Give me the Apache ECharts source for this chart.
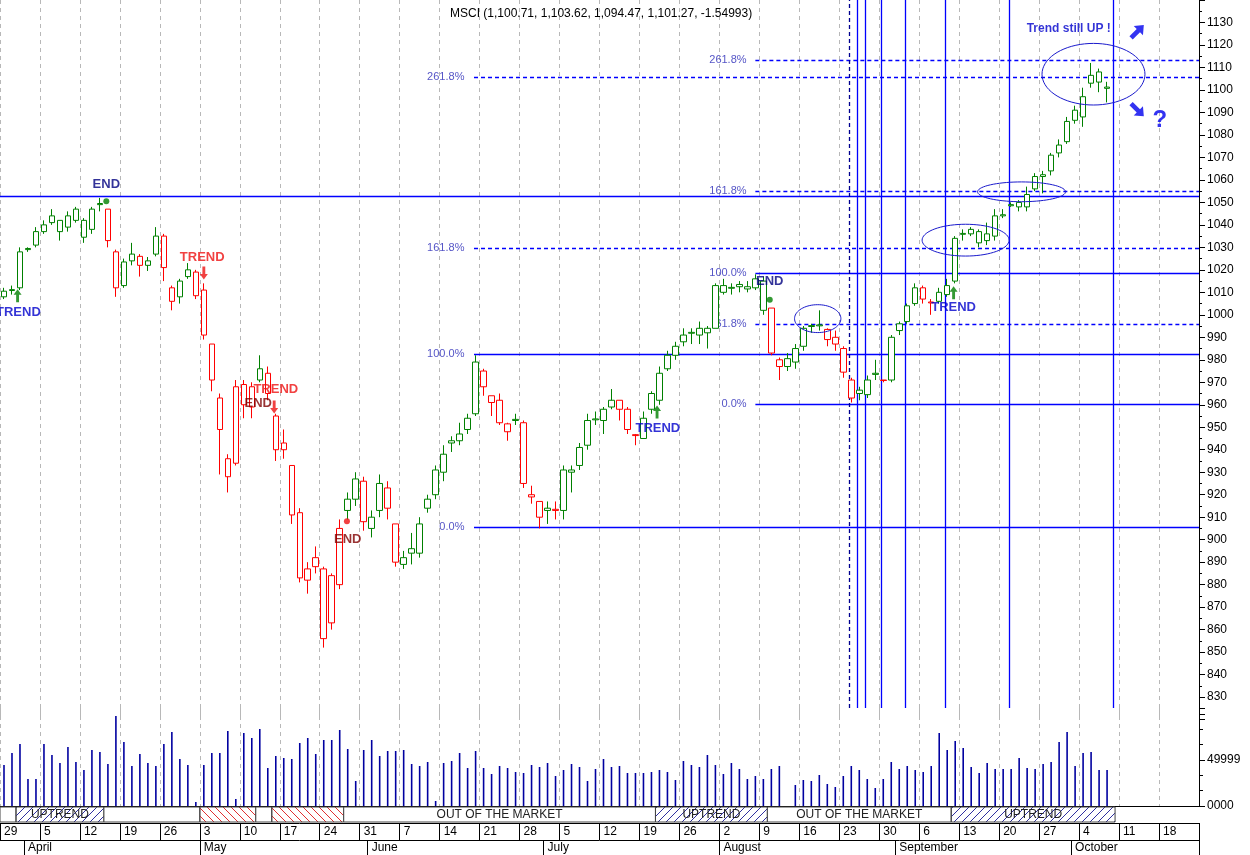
<!DOCTYPE html>
<html><head><meta charset="utf-8">
<script src="https://cdn.jsdelivr.net/npm/echarts@6/dist/echarts.min.js"></script>
<style>html,body{margin:0;padding:0;background:#fff}#c{width:1250px;height:855px}</style>
</head><body><div id="c"></div>
<script>
// ---- data ----
const opens  = [1008,1010.8,1012,1029,1031,1037,1041,1042,1039,1047,1042,1038,1049,1047,1028,1013,1024,1026,1022,1027,1035,1012,1008,1017,1019,1011,987,963,936,934,969,959,971,974,955,943,933,912,882,888,887,863,880,913,918,926,905,913,923,907,889,894,894,914,920,930,943,944,949,956,975,964,962,951.5,953,952,920,917,913,913.5,913,930,933,942,953.3,953,959,962,958,946.7,945,958,962,976,982,988,991.8,991,994,994,1013,1011.8,1013.5,1012.5,1012,1015,1003,980,977,979,986,994.8,995.1,993.5,990,985,971,965,964.5,973.5,971,971,993,997,1005,1012,1005.7,1006,1009,1015,1035.8,1036,1037,1033,1035,1044,1048.5,1050,1048,1056,1061.5,1064,1072,1077,1086.5,1088,1103,1108,1100.71];
const closes = [1010.5,1011.2,1028,1029.5,1037,1040,1044,1037,1044,1042,1034.5,1047,1049.5,1033,1012,1023.5,1027,1022,1024,1035,1021,1006,1015,1020,1008.5,991,971,949,928,968,960,968,976,965,940,940,911,883,887,892,856,884,905,918,927,908,910,925,914,890,892,896,907,918,931,938,944,947,954,979,968,961,952,948,953.5,925,919,910,914,913,931,931,941,953,953.7,958,962,958,949,946.3,954,965,974,982,986,991,992.2,994,992,1013,1010,1012.2,1012.5,1011.5,1016,1002,983,977,980.5,985,994,995.2,995.5,989,987,974.5,963,966.5,971,974,970.8,990,996,1004,1012,1007,1005.3,1010,1013,1034,1036.2,1038,1032,1036,1044,1044.5,1049,1048,1053.5,1061.5,1062.3,1071,1075.5,1086,1091,1097,1106.5,1103.5,1101.27];
const lows   = [1007,1009,1011,1028,1030,1036,1040,1033,1037,1041,1032,1036,1046,1030,1008,1012,1022,1017,1019.5,1026,1015,1002,1005,1016,1007,989,966,929,921,933,954,954,970,962,935,936,907,881,876,885,852,860,878,909,915,904,901,910,909,888,887,889,892,912,918,926,939,942,947,955,964,955,951,944,951,923,916,905,907,909,909,921,931,940,951,947,958,953,947,942,945,956,960,975,980,986,987,987,985,994,1009,1009,1010,1010,1011,1000,982,971,975,976,984,992,993,986,984,972,961,962,963,971,970,970,991,996,1004,1005,1000,1005,1008,1014,1033,1035,1030,1031,1033,1043,1048,1046,1046,1055,1054,1062,1070,1076,1085,1083.6,1101,1099,1094.47];
const highs  = [1012,1013,1030,1030,1039,1042,1047,1042,1046,1048,1043,1048,1052,1047,1029,1025,1032,1027,1025.7,1039,1036,1013,1016,1023,1020,1014,987,965,938,971,971,970,982,977,956,949,933,914,890,897,888,885,909,921,930,928,913,929,926,907,895,903,910,920,933,942,946,952,956,982,976,964,965,952,956,953,924,917,917,917,933,933,943,956,957,959,967,962,959,947,957,966,977,984,988,994,994,997,995,1014,1016,1014,1015,1015,1018,1017,1003,981,983,987,995,996,1002,994,993,986,972,968,973,980,971,991,997,1005,1014,1013,1007,1012,1016,1035,1038,1039,1038,1041,1047,1047,1050,1051,1057,1063,1064,1072,1078,1088,1093,1101,1112,1109.5,1103.62];
const volumeA = [41,53,62,27,27,62,51,43,59,44,36,56,54,42,90,64,40,52,43,40,62,74,47,41,4,41,53,53,75,7,73,68,77,38,50,48,47,63,68,52,66,66,76,57,25,56,66,50,55,55,56,42,40,44,5,43,45,53,38,55,38,32,40,38,34,33,41,39,43,30,36,42,39,25,37,47,39,40];
const volumeB = [33,33,33,34,36,34,26,45,41,39,51,41,32,43,37,27,30,27,37,40,null,21,26,25,31,22,19,30,40,36,27,18,27,44,37,40,36,34,40,73,56,65,58,39,33,43,37,37,37,48,38,37,42,44,64,74,40,53,54,36,36];
const volumes = volumeA.concat(volumeB);
const monthNames = ['January','February','March','April','May','June','July','August','September','October','November','December'];
const startDate = [2004,2,29]; // Monday 29 March 2004
const slotCount = 150;
const priceTicks = {min:820,max:1140,step:10};
// bands: [startSlot, endSlot, kind]
const bands = [[0,2,'empty'],[2,13,'up'],[13,25,'empty'],[25,32,'down'],[32,34,'empty'],[34,43,'down'],[43,82,'out'],[82,96,'up'],[96,119,'out'],[119,139.5,'up']];
// fibonacci retracements
const fib1Start = 58.8, fib1Levels = [[905.5,'0.0%','solid'],[982.4,'100.0%','solid'],[1029.7,'161.8%','dashed'],[1105.7,'261.8%','dashed']];
const fib2Start = 94, fib2Levels = [[960.3,'0.0%','solid'],[996.1,'61.8%','dashed'],[1018.6,'100.0%','solid'],[1054.9,'161.8%','dashed'],[1113.2,'261.8%','dashed']];
const resistance = 1052.7;
const timeZones = [[105.7,'dashed'],[106.7,'solid'],[107.7,'solid'],[109.7,'solid'],[112.7,'solid'],[117.7,'solid'],[125.7,'solid'],[138.7,'solid']];
const ellipses = [[101.8,998.3,2.9,6.2],[120.3,1033.2,5.44,7.07],[127.3,1054.7,5.5,4.4],[136.3,1107,6.44,13.7]];
const texts = [[1.8,1001,'TREND','blue'],[12.8,1058,'END','navy'],[24.8,1025.3,'TREND','red'],[34,967,'TREND','red'],[31.8,960.8,'END','darkred'],[43,900.2,'END','darkred'],[81.8,949.3,'TREND','blue'],[95.8,1014.7,'END','navy'],[118.8,1003.2,'TREND','blue'],[133.2,1127.4,'Trend still UP !','bluesmall'],[144.6,1086.3,'?','big']];
const arrows = [[1.7,1008.5,'up','green'],[25,1018.6,'down','red'],[33.8,959,'down','red'],[81.7,956.8,'up','green'],[118.8,1009.8,'up','green'],[141.8,1126,'upright','bigblue'],[141.8,1091.1,'downright','bigblue']];
const dots = [[12.8,1050.5,'green'],[95.8,1006.7,'green'],[42.9,908.2,'red']];
const titleText = 'MSCI (1,100.71, 1,103.62, 1,094.47, 1,101.27, -1.54993)';

// ---- derived ----
const cats=[]; const dateOf=[];
{ let d=new Date(startDate[0],startDate[1],startDate[2]);
  while(cats.length<slotCount){ const w=d.getDay(); if(w>0&&w<6){cats.push(String(cats.length)); dateOf.push(new Date(d));} d.setDate(d.getDate()+1);} }
const isWeekStart = i => dateOf[i] && dateOf[i].getDay()===1;
const isMonthStart = i => i>0 && dateOf[i].getMonth()!==dateOf[i-1].getMonth();
const bandAt = i => { const b=bands.find(b=>i>=b[0]&&i<b[1]); return b?b[2]:'none'; };

const GREEN='#008000', RED='#ff0000', BLUE='#0000ff';
const candles = opens.map((o,i)=>{
  const st=bandAt(i);
  let c = closes[i]>=o ? GREEN : RED;
  if(st==='up') c=GREEN; else if(st==='down') c=RED;
  return {value:[o,closes[i],lows[i],highs[i]], itemStyle:{color:'#ffffff',color0:c,borderColor:c,borderColor0:c,borderWidth:1}};
});
function hatch(color,dir){ const c=document.createElement('canvas'); c.width=c.height=8; const g=c.getContext('2d'); g.strokeStyle=color; g.lineWidth=1; g.beginPath();
  if(dir>0){g.moveTo(0,8);g.lineTo(8,0);g.moveTo(-4,4);g.lineTo(4,-4);g.moveTo(4,12);g.lineTo(12,4);}
  else {g.moveTo(0,0);g.lineTo(8,8);g.moveTo(-4,4);g.lineTo(4,12);g.moveTo(4,-4);g.lineTo(12,4);}
  g.stroke(); return c; }
const upPat = hatch('#3030a0',1), dnPat = hatch('#e03030',-1);

// line segments: [x1,y1,x2,y2,styleIndex]  0=solid blue, 1=dashed blue, 2=dashed navy
const segs=[];
fib1Levels.forEach(l=>segs.push([fib1Start,l[0],149.5,l[0],l[2]==='solid'?0:1]));
fib2Levels.forEach(l=>segs.push([fib2Start,l[0],149.5,l[0],l[2]==='solid'?0:1]));
segs.push([-0.5,resistance,149.5,resistance,0]);
timeZones.forEach(t=>segs.push([t[0],825.1,t[0],1140,t[1]==='solid'?0:2]));
const segStyles=[{stroke:BLUE,lineDash:null},{stroke:BLUE,lineDash:[4,3]},{stroke:'#000090',lineDash:[4,3]}];
const snap=v=>Math.round(v)+0.5;

const fibLabels=[];
fib1Levels.forEach(l=>fibLabels.push({value:[fib1Start-1.2,l[0]],label:{formatter:l[1]}}));
fib2Levels.forEach(l=>fibLabels.push({value:[fib2Start-1.1,l[0]],label:{formatter:l[1]}}));

const textStyles={blue:{color:'#0000cc',fontSize:13,fontWeight:'bold'},navy:{color:'#000080',fontSize:13,fontWeight:'bold'},red:{color:'#ee1111',fontSize:13,fontWeight:'bold'},darkred:{color:'#800000',fontSize:13,fontWeight:'bold'},bluesmall:{color:'#0000cc',fontSize:12,fontWeight:'bold'},big:{color:'#0000ee',fontSize:24,fontWeight:'bold'}};
const textItems = texts.map(t=>({value:[t[0],t[1]],label:Object.assign({show:true,position:'inside',formatter:t[2],fontFamily:'Liberation Sans'},textStyles[t[3]])}));
const arrowPath='path://M5,0 L10,6 L6.8,6 L6.8,14 L3.2,14 L3.2,6 L0,6 Z';
const rot={up:0,down:180,upright:-45,downright:-135};
const arrowItems = arrows.map(a=>({value:[a[0],a[1]],symbol:arrowPath,symbolRotate:rot[a[2]],symbolSize:a[3]==='bigblue'?[13,18]:[8,13],itemStyle:{color:a[3]==='green'?'#008000':a[3]==='red'?'#ee1111':'#0000ee'}}));
const dotItems = dots.map(d=>({value:[d[0],d[1]],itemStyle:{color:d[2]==='green'?'#008000':'#ee1111'}}));

const FONT='Liberation Sans';
const chart=echarts.init(document.getElementById('c'),null,{renderer:'canvas'});
chart.setOption({
  animation:false,
  backgroundColor:'#ffffff',
  textStyle:{fontFamily:FONT},
  title:{text:titleText,left:445,top:3,textStyle:{fontSize:12,fontWeight:'normal',color:'#000',fontFamily:FONT}},
  grid:[
    {left:0,width:1199,top:-4.63,height:724.2},
    {left:0,width:1199,top:708,height:98},
    {left:0,width:1199,top:806,height:17}
  ],
  xAxis:[
    {type:'category',gridIndex:0,data:cats,boundaryGap:true,axisLine:{show:false},axisTick:{show:false},axisLabel:{show:false},
     splitLine:{show:true,interval:(i)=>isWeekStart(i),lineStyle:{type:[4,4],color:'#b8b8b8'}}},
    {type:'value',gridIndex:0,min:-0.5,max:149.5,show:false},
    {type:'category',gridIndex:1,data:cats,position:'top',boundaryGap:true,axisLine:{show:true,lineStyle:{color:'#000',width:1}},axisTick:{show:false},axisLabel:{show:false},
     splitLine:{show:true,interval:(i)=>isWeekStart(i),lineStyle:{type:[4,4],color:'#b8b8b8'}}},
    {type:'category',gridIndex:2,data:cats,position:'bottom',boundaryGap:true,axisLine:{show:true,lineStyle:{color:'#000'}},
     axisTick:{show:true,interval:(i)=>isWeekStart(i),length:17,lineStyle:{color:'#000'}},
     axisLabel:{show:true,interval:(i)=>isWeekStart(i),formatter:(v,i)=>String(dateOf[+v].getDate()),align:'left',margin:3,color:'#000',fontSize:12,fontFamily:FONT}},
    {type:'category',gridIndex:2,data:cats,position:'bottom',offset:17,boundaryGap:true,axisLine:{show:true,lineStyle:{color:'#000'}},
     axisTick:{show:true,interval:(i)=>isMonthStart(i),length:15,lineStyle:{color:'#000'}},
     axisLabel:{show:true,interval:(i)=>isMonthStart(i),formatter:(v)=>monthNames[dateOf[+v].getMonth()],align:'left',margin:2,color:'#000',fontSize:12,fontFamily:FONT}},
    {type:'value',gridIndex:2,min:-0.5,max:149.5,show:false}
  ],
  yAxis:[
    {type:'value',gridIndex:0,position:'right',min:priceTicks.min,max:priceTicks.max,interval:priceTicks.step,
     axisLine:{show:true,onZero:false,lineStyle:{color:'#000'}},axisTick:{show:true,length:6,lineStyle:{color:'#000'}},
     minorTick:{show:true,splitNumber:2,length:3,lineStyle:{color:'#000'}},
     axisLabel:{color:'#000',fontSize:12,margin:8,fontFamily:FONT,formatter:v=>(v<=priceTicks.min||v>=priceTicks.max)?'':String(v)},splitLine:{show:false}},
    {type:'value',gridIndex:1,position:'right',min:0,max:98,interval:46,
     axisLine:{show:true,onZero:false,lineStyle:{color:'#000'}},axisTick:{show:true,length:6,lineStyle:{color:'#000'}},
     minorTick:{show:true,splitNumber:3,length:4,lineStyle:{color:'#000'}},
     axisLabel:{color:'#000',fontSize:12,fontFamily:FONT,formatter:v=>v===46?'49999':(v===0?'0000':'')},splitLine:{show:false}},
    {type:'value',gridIndex:2,min:0,max:1,show:false}
  ],
  series:[
    {type:'custom',xAxisIndex:1,yAxisIndex:0,silent:true,clip:false,data:segs,z:1,
     renderItem:(p,api)=>{
       const a=api.coord([api.value(0),api.value(1)]), b=api.coord([api.value(2),api.value(3)]);
       const st=segStyles[api.value(4)];
       const vert=Math.abs(a[0]-b[0])<0.5;
       const x1=vert?snap(a[0]):a[0], x2=vert?snap(b[0]):b[0], y1=vert?a[1]:snap(a[1]), y2=vert?b[1]:snap(b[1]);
       return {type:'line',shape:{x1:x1,y1:y1,x2:x2,y2:y2},style:{stroke:st.stroke,lineWidth:1.3,lineDash:st.lineDash}};
     }},
    {type:'candlestick',xAxisIndex:0,yAxisIndex:0,barWidth:6,data:candles,silent:true,z:3},
    {type:'bar',xAxisIndex:2,yAxisIndex:1,barWidth:1.6,data:volumes,itemStyle:{color:'#0000a0'},silent:true},
    {type:'custom',xAxisIndex:5,yAxisIndex:2,silent:true,
     data:bands.map(b=>[b[0],b[1],['empty','up','down','out'].indexOf(b[2])]),
     renderItem:(p,api)=>{
       const a=api.coord([api.value(0)-0.5,1]), b=api.coord([api.value(1)-0.5,0]);
       const k=api.value(2);
       const fill = k===1?{image:upPat,repeat:'repeat'}:k===2?{image:dnPat,repeat:'repeat'}:'#ffffff';
       const ch=[{type:'rect',shape:{x:a[0],y:a[1]+1,width:b[0]-a[0],height:b[1]-a[1]-2},style:{fill:fill,stroke:'#444',lineWidth:1}}];
       const label = k===1?'UPTREND':k===3?'OUT OF THE MARKET':'';
       if(label) ch.push({type:'text',style:{text:label,x:(a[0]+b[0])/2,y:(a[1]+b[1])/2,align:'center',verticalAlign:'middle',fill:'#222',font:'12px Liberation Sans'}});
       return {type:'group',children:ch};
     }},
    {type:'scatter',xAxisIndex:1,yAxisIndex:0,symbolSize:0,silent:true,data:fibLabels,
     label:{show:true,position:'left',distance:0,color:'#2828b8',fontSize:11,fontFamily:FONT}},
    {type:'scatter',xAxisIndex:1,yAxisIndex:0,symbolSize:0,silent:true,data:textItems,z:5},
    {type:'scatter',xAxisIndex:1,yAxisIndex:0,silent:true,data:arrowItems,z:5},
    {type:'scatter',xAxisIndex:1,yAxisIndex:0,silent:true,symbol:'circle',symbolSize:6,data:dotItems,z:5},
    {type:'custom',xAxisIndex:1,yAxisIndex:0,silent:true,data:ellipses,z:5,
     renderItem:(p,api)=>{
       const c=api.coord([api.value(0),api.value(1)]); const s=api.size([api.value(2),api.value(3)]);
       const pts=[]; for(let i=0;i<72;i++){const t=i/72*Math.PI*2; pts.push([c[0]+s[0]*Math.cos(t),c[1]+s[1]*Math.sin(t)]);}
       return {type:'polygon',shape:{points:pts},style:{fill:'none',stroke:'#1a1acc',lineWidth:1}};
     }}
  ]
});
</script></body></html>
